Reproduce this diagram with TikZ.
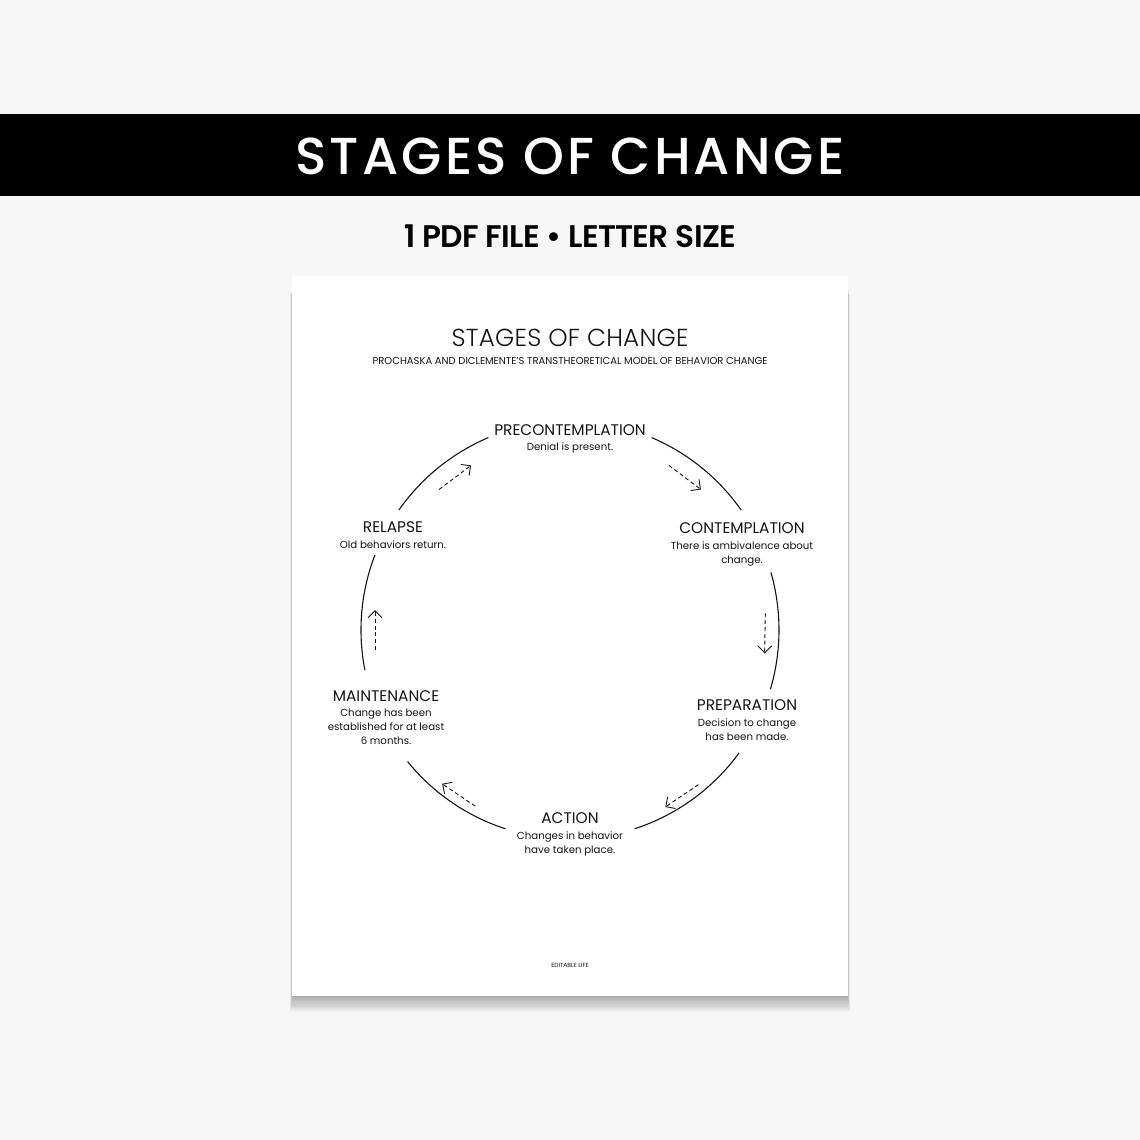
\documentclass[tikz,border=0pt]{standalone}
\usepackage{fontspec}
\setmainfont{Poppins}
\newfontfamily\popl[LetterSpace=1]{Poppins Light}
\newfontfamily\popm[LetterSpace=6]{Poppins Medium}
\newfontfamily\pops[LetterSpace=-2]{Poppins SemiBold}
\usetikzlibrary{positioning, arrows.meta, calc}
\definecolor{bggray}{HTML}{F7F7F7}
\definecolor{ink}{HTML}{151515}

\begin{document}
\begin{tikzpicture}[x=0.5pt,y=-0.5pt,
    stage/.style={font=\fontsize{7.7}{9}\selectfont, inner sep=0pt, text=ink},
    desc/.style={font=\fontsize{5.1}{7}\selectfont, align=center, inner sep=0pt, text=ink},
    cyc/.style={line width=0.55pt, draw=ink},
    flow/.style={line width=0.45pt, draw=ink, dash pattern=on 2pt off 1.4pt,
      -{Straight Barb[length=3.5pt,width=7pt,line width=0.45pt]}}]
    % background and bounding box
    \fill[bggray] (0,0) rectangle (1140,1140);
    \useasboundingbox (0,0) rectangle (1140,1140);
    % banner
    \fill[black] (0,114) rectangle (1140,196);
    \node[font=\popm\fontsize{26}{30}\selectfont, text=white, inner sep=0pt] (banner) at (570,156) {STAGES OF CHANGE};
    \node[font=\pops\fontsize{15.6}{18}\selectfont, text=black, inner sep=0pt] (format) at (570,236) {1 PDF FILE • LETTER SIZE};
    % sheet with shadow
    \foreach \i in {1,...,10}
      \fill[black, opacity=0.035] (293-\i*0.3,284+\i*1.1) rectangle (847+\i*0.3,994+\i*1.8);
    \fill[white] (292,276) rectangle (848,996);
    \node[font=\popl\fontsize{12.3}{15}\selectfont, text=ink, inner sep=0pt] (title) at (570,338) {STAGES OF CHANGE};
    \node[font=\fontsize{5}{6}\selectfont, text=ink, inner sep=0pt, below=5pt of title] (sub) {PROCHASKA AND DICLEMENTE'S TRANSTHEORETICAL MODEL OF BEHAVIOR CHANGE};
    % stages
    \node[stage] (pre) at (570,430) {PRECONTEMPLATION};
    \node[desc, below=3pt of pre] (pre-d) {Denial is present.};
    \node[stage] (con) at (742,528) {CONTEMPLATION};
    \node[desc, below=3.5pt of con] (con-d) {There is ambivalence about\\change.};
    \node[stage] (prep) at (747,705) {PREPARATION};
    \node[desc, below=3.5pt of prep] (prep-d) {Decision to change\\has been made.};
    \node[stage] (act) at (570,818) {ACTION};
    \node[desc, below=3.5pt of act] (act-d) {Changes in behavior\\have taken place.};
    \node[stage] (maint) at (386,696) {MAINTENANCE};
    \node[desc, below=3.5pt of maint] (maint-d) {Change has been\\established for at least\\6 months.};
    \node[stage] (rel) at (393,527) {RELAPSE};
    \node[desc, below=3.5pt of rel] (rel-d) {Old behaviors return.};
    \node[font=\fontsize{3}{4}\selectfont, text=ink, inner sep=0pt] (brand) at (570,965) {EDITABLE LIFE};
    % cycle
    \begin{scope}[shift={(570,630)}, yscale=-1]
      \foreach \a/\b in {113/145, 67/35, 16/-16.5, -36/-72, -108/-141, 159/191}
        \draw[cyc] (\a:209) arc[start angle=\a, end angle=\b, radius=209];
      \foreach \t/\r in {127/191, 53/191, -1/195, -56/200, -124/199, 180/195}
        \draw[flow] ($(\t:\r)+(\t+90:20)$) -- ($(\t:\r)+(\t-90:20)$);
    \end{scope}
\end{tikzpicture}
\end{document}
